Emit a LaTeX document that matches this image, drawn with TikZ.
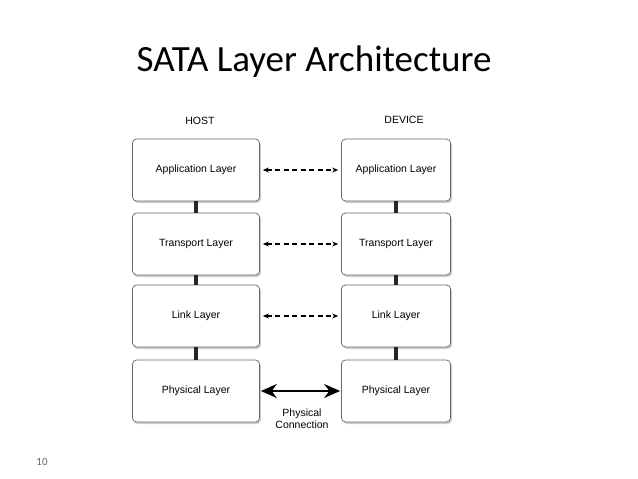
\documentclass[tikz,border=0pt]{standalone}
\usepackage{fontspec}
\setmainfont{Liberation Sans}
\newfontfamily\titlefont{Carlito}
\usetikzlibrary{arrows.meta,shadows}
\begin{document}
\begin{tikzpicture}[x=1pt,y=-1pt,
  layerbox/.style={draw=black!60,line width=0.7pt,rounded corners=4pt,fill=white,minimum width=127pt,minimum height=62pt,font=\fontsize{10.5}{12}\selectfont,drop shadow={shadow xshift=1.5pt,shadow yshift=-2pt,opacity=0.4}},
  rlayerbox/.style={layerbox,minimum width=109pt},
  vlink/.style={line width=3.5pt,black!85},
  dashlink/.style={dashed,dash pattern=on 5pt off 3.5pt,line width=1.2pt,{Stealth[length=6pt,width=5pt]}-{Stealth[length=6pt,width=5pt]}},
  lbl/.style={font=\fontsize{10.5}{12}\selectfont}]
\useasboundingbox (0,0) rectangle (638,479);
\node[font=\titlefont\fontsize{37}{40}\selectfont] (title) at (314,62) {SATA Layer Architecture};
\node[lbl] (host) at (200,121) {HOST};
\node[lbl] (dev) at (404,120) {DEVICE};
\foreach \n/\t/\y in {a/Application Layer/170,t/Transport Layer/244,l/Link Layer/316,p/Physical Layer/391}{
  \node[layerbox] (h\n) at (196,\y) {\t};
  \node[rlayerbox] (d\n) at (396,\y) {\t};
}
\foreach \u/\v in {a/t,t/l,l/p}{
  \draw[vlink] (h\u) -- (h\v);
  \draw[vlink] (d\u) -- (d\v);
}
\draw[dashlink] ([xshift=3pt]ha.east) -- ([xshift=-3pt]da.west);
\draw[dashlink] ([xshift=3pt]ht.east) -- ([xshift=-3pt]dt.west);
\draw[dashlink] ([xshift=3pt]hl.east) -- ([xshift=-3pt]dl.west);
\draw[line width=1.5pt,{Stealth[length=16pt,width=14pt]}-{Stealth[length=16pt,width=14pt]}] ([xshift=1pt]hp.east) -- ([xshift=-1pt]dp.west);
\node[lbl,align=center] (pc) at (302,419) {Physical\\Connection};
\node[font=\titlefont\fontsize{11}{12}\selectfont,black!60] (num) at (42,462) {10};
\end{tikzpicture}
\end{document}
